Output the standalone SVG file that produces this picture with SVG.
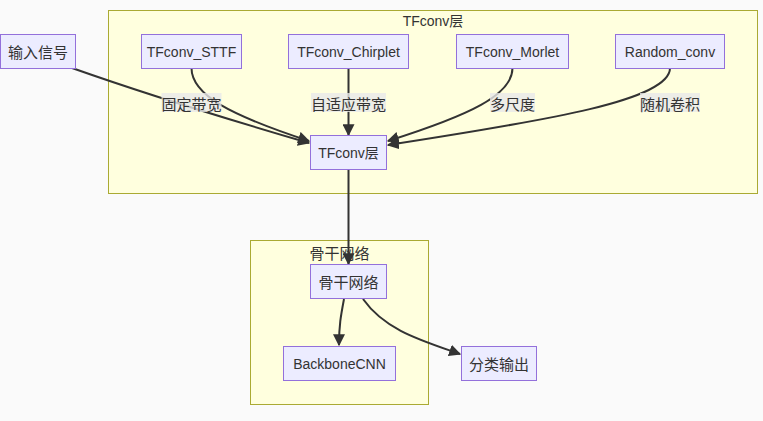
<svg xmlns="http://www.w3.org/2000/svg" width="763" height="421" viewBox="0 0 763 421">
<style>
text{font-family:"Noto Sans CJK SC","Liberation Sans",sans-serif;font-size:15px;fill:#333;text-anchor:middle;dominant-baseline:central}
text.lat{font-family:"Liberation Sans","Noto Sans CJK SC",sans-serif;font-size:14px}
.cluster rect{fill:#ffffde;stroke:#aaaa33;stroke-width:1}
.node rect{fill:#ececff;stroke:#9370db;stroke-width:1}
.edge{fill:none;stroke:#333;stroke-width:2}
.lbl rect{fill:#e8e8e8;opacity:0.8}
</style>
<defs>
<marker id="arrow" viewBox="0 0 10 10" refX="9" refY="5" markerWidth="12" markerHeight="12" markerUnits="userSpaceOnUse" orient="auto">
<path d="M0,0 L10,5 L0,10 z" fill="#333"/>
</marker>
</defs>
<rect width="763" height="421" fill="#fafafa"/>
<g id="cluster-tfconv" class="cluster">
<rect x="108.5" y="10.5" width="649" height="183"/>
<text class="lat" x="433" y="21">TFconv层</text>
</g>
<g id="cluster-backbone" class="cluster">
<rect x="250.5" y="240.5" width="178" height="164"/>
<text x="339.5" y="252">骨干网络</text>
</g>
<g id="connectors">
<path class="edge" d="M72,68 C140,92 220,117 309,143" marker-end="url(#arrow)"/>
<path class="edge" d="M191.5,68 C191.5,95 230,115 309,141" marker-end="url(#arrow)"/>
<path class="edge" d="M348.5,68 L348.5,135" marker-end="url(#arrow)"/>
<path class="edge" d="M512.5,68 C512.5,95 470,115 388,141" marker-end="url(#arrow)"/>
<path class="edge" d="M670,68 C670,100 550,120 388,145" marker-end="url(#arrow)"/>
<path class="edge" d="M348.5,170 L348.5,264" marker-end="url(#arrow)"/>
<path class="edge" d="M344,299 C341,315 339,325 339,345" marker-end="url(#arrow)"/>
<path class="edge" d="M363,299 C385,330 420,340 460,354" marker-end="url(#arrow)"/>
</g>
<g id="edge-labels">
<g class="lbl"><rect x="161.5" y="93" width="60" height="19"/><text x="191.5" y="103">固定带宽</text></g>
<g class="lbl"><rect x="311" y="93" width="75" height="19"/><text x="348.5" y="103">自适应带宽</text></g>
<g class="lbl"><rect x="490" y="93" width="45" height="19"/><text x="512.5" y="103">多尺度</text></g>
<g class="lbl"><rect x="640" y="93" width="60" height="19"/><text x="670" y="103">随机卷积</text></g>
</g>
<g id="node-input" class="node"><rect x="0.5" y="34.5" width="75" height="34"/><text x="38" y="51.5">输入信号</text></g>
<g id="node-sttf" class="node"><rect x="141.5" y="34.5" width="100" height="34"/><text class="lat" x="191.5" y="51.5">TFconv_STTF</text></g>
<g id="node-chirplet" class="node"><rect x="288.5" y="34.5" width="120" height="34"/><text class="lat" x="348.5" y="51.5">TFconv_Chirplet</text></g>
<g id="node-morlet" class="node"><rect x="456.5" y="34.5" width="112" height="34"/><text class="lat" x="512.5" y="51.5">TFconv_Morlet</text></g>
<g id="node-random" class="node"><rect x="615.5" y="34.5" width="109" height="34"/><text class="lat" x="670" y="51.5">Random_conv</text></g>
<g id="node-tfconv" class="node"><rect x="310.5" y="135.5" width="76" height="34"/><text class="lat" x="348.5" y="152.5">TFconv层</text></g>
<g id="node-backbone" class="node"><rect x="310.5" y="264.5" width="76" height="34"/><text x="348.5" y="281.5">骨干网络</text></g>
<g id="node-cnn" class="node"><rect x="283.5" y="346.5" width="112" height="34"/><text class="lat" x="339.5" y="363.5">BackboneCNN</text></g>
<g id="node-output" class="node"><rect x="461.5" y="346.5" width="75" height="34"/><text x="499" y="363.5">分类输出</text></g>
</svg>
